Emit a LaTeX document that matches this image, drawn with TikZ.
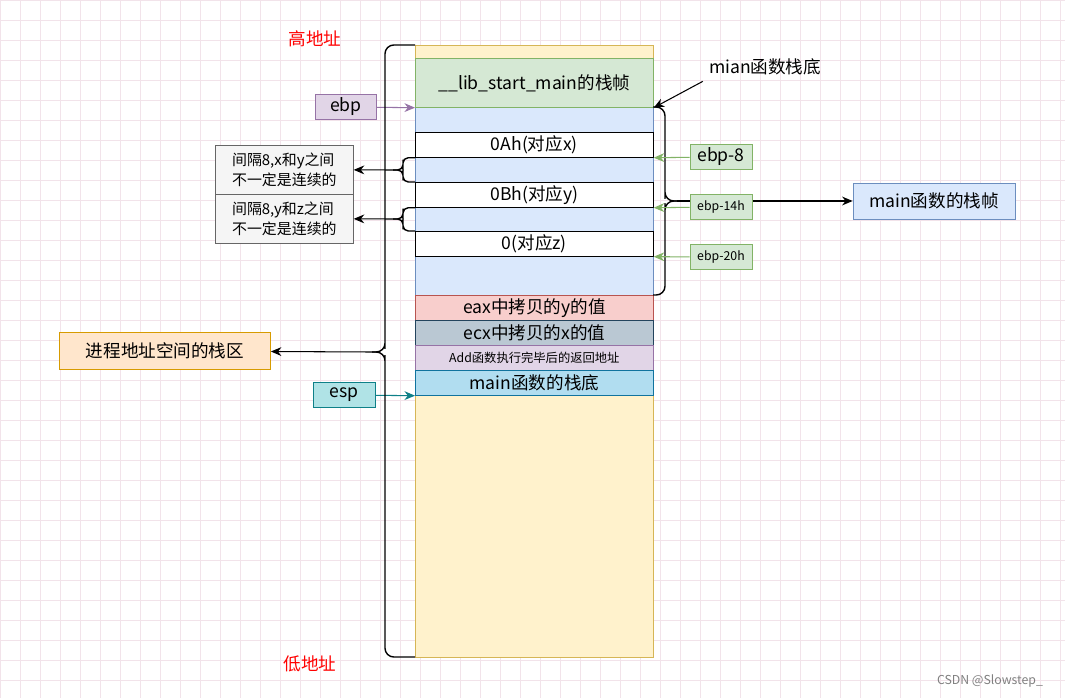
\documentclass[tikz,border=0pt]{standalone}
\usepackage{fontspec}
\setmainfont{Noto Sans CJK SC}
\usetikzlibrary{arrows.meta,positioning,calc}
\definecolor{cellyellow}{HTML}{FFF2CC}\definecolor{edgeyellow}{HTML}{D6B656}
\definecolor{cellgreen}{HTML}{D5E8D4}\definecolor{edgegreen}{HTML}{82B366}
\definecolor{cellblue}{HTML}{DAE8FC}\definecolor{edgeblue}{HTML}{6C8EBF}
\definecolor{cellred}{HTML}{F8CECC}\definecolor{edgered}{HTML}{B85450}
\definecolor{cellslate}{HTML}{BAC8D3}\definecolor{edgeslate}{HTML}{23445D}
\definecolor{cellpurple}{HTML}{E1D5E7}\definecolor{edgepurple}{HTML}{9673A6}
\definecolor{cellcyan}{HTML}{B1DDF0}\definecolor{edgecyan}{HTML}{10739E}
\definecolor{cellteal}{HTML}{B0E3E6}\definecolor{edgeteal}{HTML}{0E8088}
\definecolor{cellorange}{HTML}{FFE6CC}\definecolor{edgeorange}{HTML}{D79B00}
\definecolor{cellgray}{HTML}{F5F5F5}\definecolor{edgegray}{HTML}{666666}
\definecolor{gridpink}{HTML}{F2E3EA}
\tikzset{
  cell/.style={draw, minimum width=238*0.2mm, inner sep=0pt, font=\fontsize{10}{12}\selectfont},
  tag/.style={draw, inner sep=0pt, font=\fontsize{10}{12}\selectfont},
  note/.style={draw=edgegray, fill=cellgray, minimum width=138*0.2mm, minimum height=49*0.2mm,
    align=left, inner sep=2pt, font=\fontsize{8.5}{11}\selectfont},
  link/.style={-{Stealth[length=6pt,width=5pt]}, semithick},
  brace/.style={thick, rounded corners=5pt}
}
\begin{document}
\begin{tikzpicture}[x=0.2mm,y=-0.2mm]
    % Background grid
    \fill[white] (0,0) rectangle (1065,698);
    \useasboundingbox (0,0) rectangle (1065,698);
    \foreach \gx in {0,20,...,1060} \draw[gridpink, very thin] (\gx,0) -- (\gx,698);
    \foreach \gy in {0,20,...,690} \draw[gridpink, very thin] (0,\gy) -- (1065,\gy);

    % Stack column
    \draw[edgeyellow, fill=cellyellow] (415,45) rectangle (653,657);
    \draw[edgeblue, fill=cellblue] (415,107) rectangle (653,295);
    \node[cell, draw=edgegreen, fill=cellgreen, minimum height=49*0.2mm, anchor=north west] (libframe) at (415,58) {\_\_lib\_start\_main的栈帧};
    \node[cell, fill=white, minimum height=25*0.2mm, anchor=north west] (valx) at (415,132) {0Ah(对应x)};
    \node[cell, fill=white, minimum height=25*0.2mm, anchor=north west] (valy) at (415,182) {0Bh(对应y)};
    \node[cell, fill=white, minimum height=25*0.2mm, anchor=north west] (valz) at (415,231) {0(对应z)};
    \node[cell, draw=edgered, fill=cellred, minimum height=25*0.2mm, anchor=north west] (eaxcopy) at (415,295) {eax中拷贝的y的值};
    \node[cell, draw=edgeslate, fill=cellslate, minimum height=25*0.2mm, anchor=north west] (ecxcopy) at (415,320) {ecx中拷贝的x的值};
    \node[cell, draw=edgepurple, fill=cellpurple, minimum height=25*0.2mm, anchor=north west, font=\fontsize{7}{8}\selectfont] (retaddr) at (415,345) {Add函数执行完毕后的返回地址};
    \node[cell, draw=edgecyan, fill=cellcyan, minimum height=25*0.2mm, anchor=north west] (mainbase) at (415,370) {main函数的栈底};

    % Address labels
    \node[text=red, font=\fontsize{10}{12}\selectfont] (highaddr) at (315,39) {高地址};
    \node[text=red, font=\fontsize{10}{12}\selectfont] (lowaddr) at (310,664) {低地址};

    % Pointers
    \node[tag, draw=edgepurple, fill=cellpurple, minimum width=61*0.2mm, minimum height=25*0.2mm] (ebp) at (346,107) {ebp};
    \draw[link, edgepurple] (ebp) -- (libframe.south west);
    \node[tag, draw=edgeteal, fill=cellteal, minimum width=62*0.2mm, minimum height=25*0.2mm] (esp) at (344,395) {esp};
    \draw[link, edgeteal] (esp) -- (mainbase.south west);

    % Whole stack brace
    \coordinate (bigtip) at (372,352);
    \draw[brace] (415,45) -| (385,340) |- (bigtip);
    \draw[brace] (bigtip) -| (385,364) |- (415,657);
    \node[tag, draw=edgeorange, fill=cellorange, minimum width=211*0.2mm, minimum height=37*0.2mm] (stackarea) at (165,351) {进程地址空间的栈区};
    \draw[link] (bigtip) -- (stackarea);

    % Main frame brace
    \coordinate (frametip) at (677,201);
    \draw[brace] (653,107) -| (665,190) |- (frametip);
    \draw[brace] (frametip) -| (665,212) |- (653,295);
    \node[tag, draw=edgeblue, fill=cellblue, minimum width=162*0.2mm, minimum height=36*0.2mm] (mainframe) at (934,201) {main函数的栈帧};
    \draw[link] (frametip) -- (mainframe);

    % Base of main
    \node[font=\fontsize{10}{12}\selectfont] (mianbase) at (765,67) {mian函数栈底};
    \draw[link] (mianbase.south west) -- (libframe.south east);

    % Offsets
    \node[tag, draw=edgegreen, fill=cellgreen, minimum width=62*0.2mm, minimum height=25*0.2mm] (off8) at (721,157) {ebp-8};
    \node[tag, draw=edgegreen, fill=cellgreen, minimum width=62*0.2mm, minimum height=25*0.2mm, font=\fontsize{7}{8}\selectfont] (off14) at (721,207) {ebp-14h};
    \node[tag, draw=edgegreen, fill=cellgreen, minimum width=62*0.2mm, minimum height=25*0.2mm, font=\fontsize{7}{8}\selectfont] (off20) at (721,257) {ebp-20h};
    \draw[link, edgegreen] (off8) -- (valx.south east);
    \draw[link, edgegreen] (off14) -- (valy.south east);
    \draw[link, edgegreen] (off20) -- (valz.south east);

    % Gap braces
    \coordinate (gaptip1) at (393,170);
    \draw[brace, rounded corners=3pt] (valx.south west) -| (403,165) |- (gaptip1);
    \draw[brace, rounded corners=3pt] (gaptip1) -| (403,175) |- (valy.north west);
    \node[note, anchor=north west] (gapxy) at (215,145) {间隔8,x和y之间\\不一定是连续的};
    \draw[link] (gaptip1) -- (gapxy.east);
    \coordinate (gaptip2) at (393,219);
    \draw[brace, rounded corners=3pt] (valy.south west) -| (403,214) |- (gaptip2);
    \draw[brace, rounded corners=3pt] (gaptip2) -| (403,224) |- (valz.north west);
    \node[note, anchor=north west] (gapyz) at (215,194) {间隔8,y和z之间\\不一定是连续的};
    \draw[link] (gaptip2) -- (gapyz.east);

    % Watermark
    \node[text=gray, font=\fontsize{7}{9}\selectfont] (mark) at (990,681) {CSDN @Slowstep\_};
\end{tikzpicture}
\end{document}
